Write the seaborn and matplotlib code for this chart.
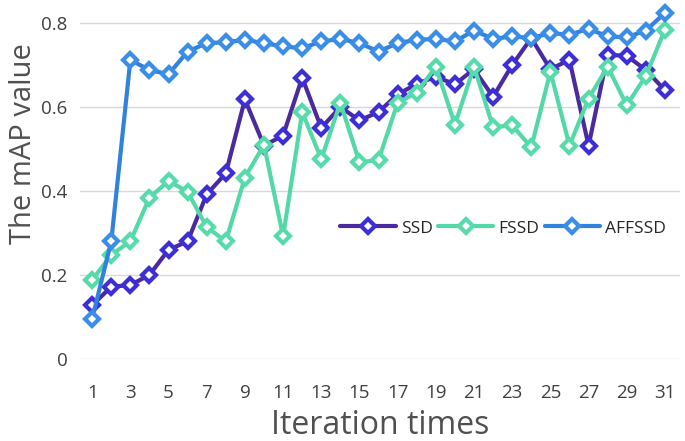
import numpy as np
import pandas as pd
import seaborn as sns
import matplotlib.pyplot as plt

# data
iterations = list(range(1, 32))
ssd = [0.128, 0.172, 0.176, 0.200, 0.260, 0.280, 0.392, 0.442, 0.618, 0.508,
       0.532, 0.670, 0.550, 0.600, 0.568, 0.588, 0.630, 0.655, 0.672, 0.654,
       0.690, 0.624, 0.700, 0.764, 0.690, 0.712, 0.508, 0.724, 0.722, 0.688,
       0.640]
fssd = [0.188, 0.248, 0.280, 0.384, 0.424, 0.398, 0.314, 0.280, 0.432, 0.510,
        0.292, 0.588, 0.476, 0.610, 0.468, 0.474, 0.610, 0.634, 0.696, 0.558,
        0.696, 0.552, 0.556, 0.504, 0.684, 0.508, 0.620, 0.696, 0.604, 0.674,
        0.784]
affssd = [0.096, 0.280, 0.712, 0.688, 0.678, 0.732, 0.752, 0.754, 0.760, 0.752,
          0.744, 0.740, 0.756, 0.762, 0.752, 0.732, 0.752, 0.760, 0.762, 0.756,
          0.782, 0.762, 0.768, 0.764, 0.776, 0.772, 0.786, 0.768, 0.766, 0.782,
          0.824]
models = ["SSD", "FSSD", "AFFSSD"]
line_colors = ["#4a2a9e", "#55d8a8", "#3182dc"]
edge_colors = ["#3d2ed6", "#57dbab", "#3a8ee8"]

df = pd.DataFrame({
    "iter": iterations * 3,
    "mAP": ssd + fssd + affssd,
    "model": ["SSD"] * 31 + ["FSSD"] * 31 + ["AFFSSD"] * 31,
})

sns.set_style("white")
plt.rcParams["font.family"] = ["Open Sans", "DejaVu Sans"]

fig = plt.figure(figsize=(6.85, 4.41), dpi=100)
ax = fig.add_axes([0.117, 0.186, 0.876, 0.80])

for m, lc, ec in zip(models, line_colors, edge_colors):
    sub = df[df["model"] == m]
    sns.lineplot(data=sub, x="iter", y="mAP", ax=ax, color=lc, lw=3,
                 marker="D", markersize=7, markerfacecolor="white",
                 markeredgecolor=ec, markeredgewidth=3.0, label=m,
                 clip_on=False)

ax.set_xlim(0.37, 31.8)
ax.set_ylim(0, 0.84)
ax.set_xticks(range(1, 32, 2))
ax.set_yticks([0, 0.2, 0.4, 0.6, 0.8])
ax.set_yticklabels(["0", "0.2", "0.4", "0.6", "0.8"])
ax.tick_params(axis="both", length=0, labelsize=13.5, colors="#404040")
ax.tick_params(axis="x", pad=18)
ax.tick_params(axis="y", pad=9)
ax.yaxis.grid(True, color="#d9d9d9", lw=1)
ax.set_axisbelow(True)
sns.despine(ax=ax, left=True, bottom=True)

ax.set_xlabel("Iteration times", fontsize=23, color="#505050", labelpad=5)
ax.set_ylabel("The mAP value", fontsize=21, color="#505050")
ax.yaxis.set_label_coords(-0.07, 0.61)

ax.legend(loc="center", bbox_to_anchor=(0.705, 0.37), ncol=3, frameon=False,
          fontsize=12.5, handlelength=3.2, columnspacing=0.3, handletextpad=0.3)

fig.savefig("out.png", dpi=100)
